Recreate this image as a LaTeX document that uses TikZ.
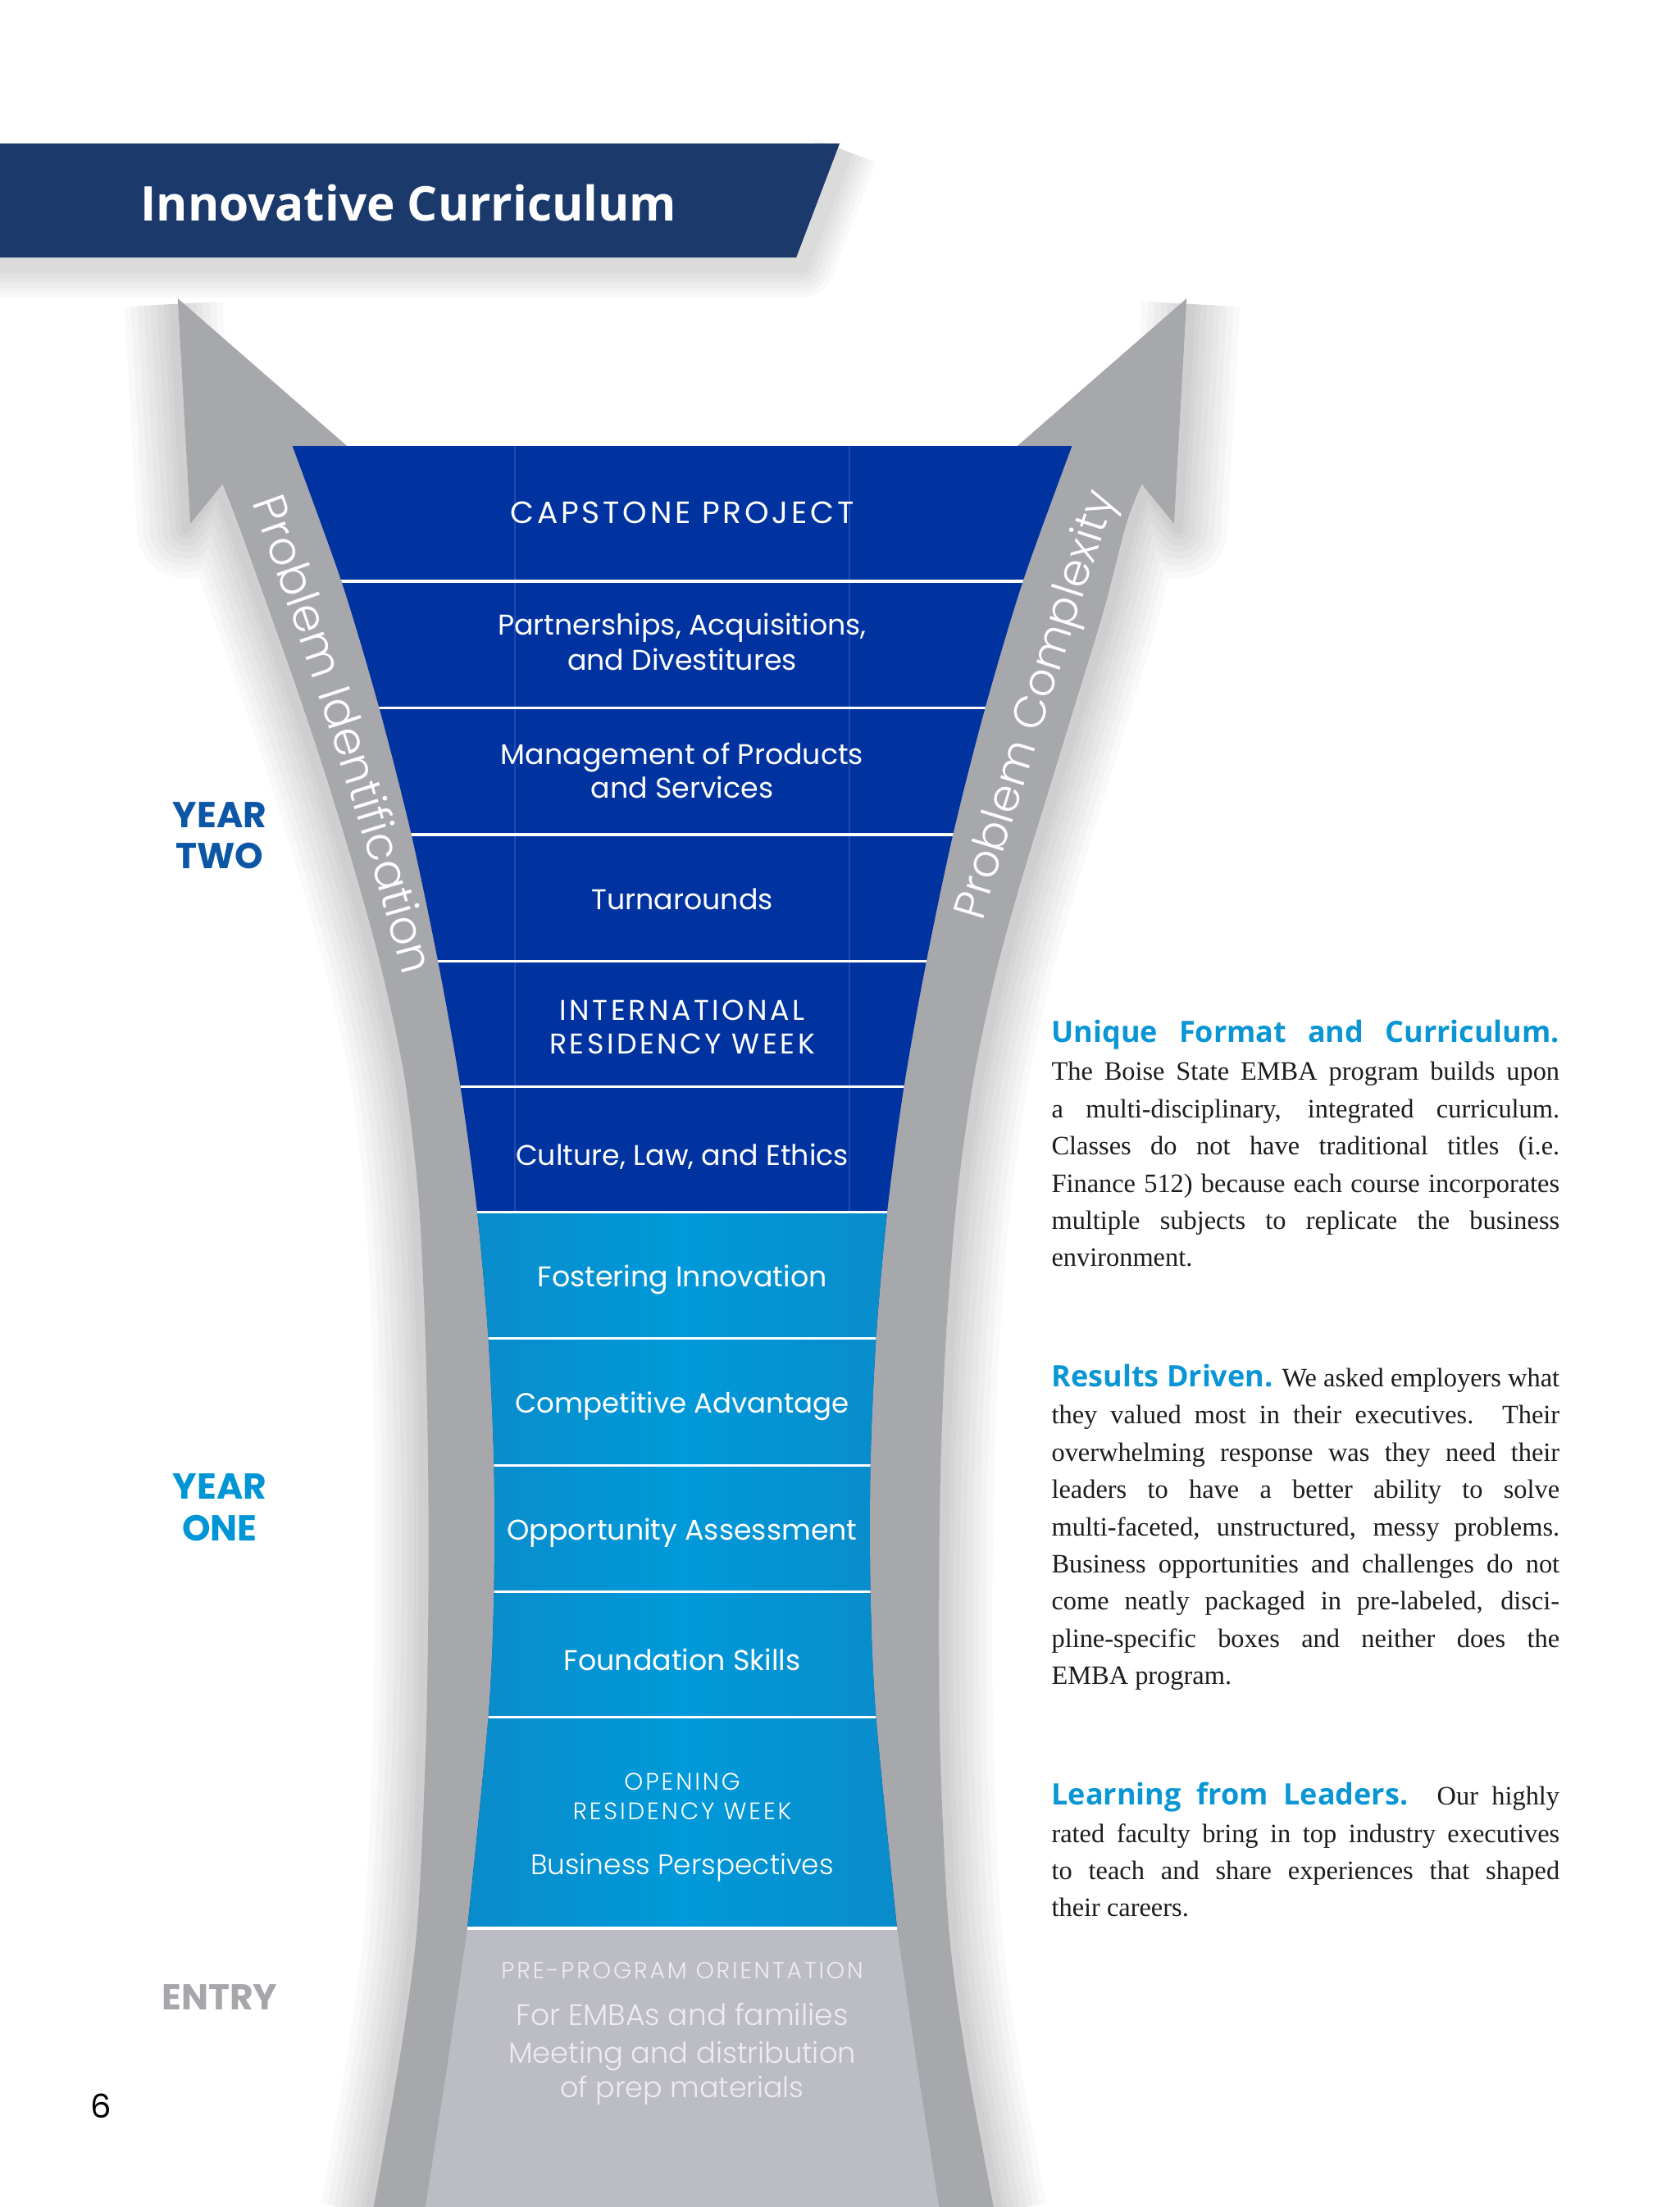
\documentclass[tikz,border=0pt]{standalone}
\usepackage{fontspec}
\usetikzlibrary{decorations.text}
\newfontfamily\labfont{Poppins}
\newfontfamily\labcaps{Poppins}[LetterSpace=10]
\IfFontExistsTF{Poppins Light}{%
  \newfontfamily\lightfont{Poppins Light}%
  \newfontfamily\lightcaps{Poppins Light}[LetterSpace=10]%
}{%
  \newfontfamily\lightfont{Poppins}%
  \newfontfamily\lightcaps{Poppins}[LetterSpace=10]%
}
\newfontfamily\headfont{Open Sans}
\newfontfamily\bodyfont{Liberation Serif}
\definecolor{navy}{HTML}{1B3A6B}
\definecolor{dblue}{HTML}{0033A0}
\definecolor{dbluelight}{HTML}{1F4BAE}
\definecolor{lblue}{HTML}{0099D9}
\definecolor{lblueedge}{HTML}{0A8BCA}
\definecolor{bandgray}{HTML}{A7A8AC}
\definecolor{entrygray}{HTML}{BCBDC4}
\definecolor{entrytext}{HTML}{EDEDF1}
\definecolor{yeartwo}{HTML}{0C56A6}
\definecolor{yearone}{HTML}{0096D6}
\definecolor{entrylab}{HTML}{A6A7AA}
\definecolor{headblue}{HTML}{0A96D4}
\definecolor{bodytext}{HTML}{1E1B1C}
\newlength\colw
\setlength\colw{154.9pt}
\newcommand\myhead[1]{{\headfont\bfseries\fontsize{9}{11}\selectfont\color{headblue}#1}}
\def\LeftArrowOutline{(127,212) -- (136,372) -- (159,344) -- plot[smooth] coordinates {(159,344) (170,372) (192,433) (214,495) (234,555) (253,617) (272,686) (289,765) (299,850) (304,950) (306,1050) (306,1150) (304,1250) (298,1370) (286,1460) (267,1568)}}
\def\LeftArrowShape{\LeftArrowOutline -- (430,1568) -- (420,900) -- (307,368) -- cycle}
\def\RightArrowOutline{(848,212) -- (839,372) -- (816,344) -- plot[smooth] coordinates {(816,344) (805,372) (789,433) (770,495) (750,560) (730,625) (712,690) (696,765) (684,850) (676,950) (672,1050) (671,1150) (672,1250) (678,1370) (690,1460) (710,1568)}}
\def\RightArrowShape{\RightArrowOutline -- (545,1568) -- (555,900) -- (668,368) -- cycle}
\def\PanelPath{plot[smooth] coordinates {(209,317) (244,413) (271,503) (294,593) (313,683) (329,772) (341,861) (349,951) (353,1041) (353,1131) (349,1220) (334,1370)} -- plot[smooth] coordinates {(641,1370) (626,1220) (622,1131) (622,1041) (626,951) (634,861) (646,772) (662,683) (681,593) (704,503) (731,413) (766,317)} -- cycle}
\def\EntryPath{plot[smooth] coordinates {(334,1370) (320,1465) (304,1568)} -- plot[smooth] coordinates {(671,1568) (655,1465) (641,1370)} -- cycle}
\begin{document}
\begin{tikzpicture}[x=0.426667pt,y=-0.4292pt,
  lab/.style={font=\labfont\fontsize{8.7}{10}\selectfont, text=white, inner sep=0pt, anchor=base},
  labcap/.style={lab, font=\labcaps\fontsize{8.7}{10}\selectfont},
  labsm/.style={lab, font=\lightcaps\fontsize{7.3}{9}\selectfont},
  entrylabel/.style={lab, text=entrytext, font=\lightfont\fontsize{8.7}{10}\selectfont},
  entrysm/.style={lab, text=entrytext, font=\lightcaps\fontsize{7.1}{9}\selectfont},
  yr/.style={font=\labfont\bfseries\fontsize{11}{13}\selectfont, inner sep=0pt, anchor=base},
  pnum/.style={font=\labfont\fontsize{10}{12}\selectfont, text=black, inner sep=0pt, anchor=base},
  body/.style={font=\bodyfont\fontsize{8.1}{9}\selectfont, text=bodytext, inner sep=0pt, anchor=base west},
  titlefont/.style={font=\headfont\bfseries\fontsize{14.6}{17}\selectfont, text=white, inner sep=0pt, anchor=base},
  sepline/.style={draw=white, line width=0.8pt},
  vline/.style={draw=dbluelight, line width=0.5pt},
  shadowline/.style={draw=black, line join=round},
]
\useasboundingbox (0,0) rectangle (1200,1568);
\fill[white] (0,0) rectangle (1200,1568);

% banner
\foreach \ww in {20,17,14,11,8,5} {
  \draw[shadowline, line width=\ww pt, opacity=0.025, shift={(4,5)}] (-30,183) -- (569,183) -- (600,102);
}
\fill[navy] (0,102) -- (600,102) -- (569,183) -- (0,183) -- cycle;
\node[titlefont] (title) at (292,157) {Innovative Curriculum};

% arrow shadows
\foreach \ww in {30,26,22,18,14,10,6,3} {
  \draw[shadowline, line width=\ww pt, opacity=0.022, shift={(-3,4)}] \LeftArrowOutline;
  \draw[shadowline, line width=\ww pt, opacity=0.022, shift={(3,4)}] \RightArrowOutline;
}
% arrows
\fill[bandgray] \LeftArrowShape;
\fill[bandgray] \RightArrowShape;

% funnel panel
\fill[dblue] \PanelPath;
\begin{scope}
  \clip \PanelPath;
  \shade[left color=lblueedge, right color=lblueedge, middle color=lblue] (330,861) rectangle (645,1372);
  \draw[vline] (368,317) -- (368,861);
  \draw[vline] (607,317) -- (607,861);
  \foreach \yy in {413,503,593,683,772,861,951,1041,1131,1220}
    \draw[sepline] (200,\yy) -- (780,\yy);
\end{scope}
\fill[entrygray] \EntryPath;
\draw[sepline] (334,1370) -- (641,1370);

% row labels
\node[labcap, font=\labcaps\fontsize{9.4}{11}\selectfont] (capstone) at (487.5,372) {CAPSTONE PROJECT};
\node[lab] (pa1) at (487.5,451) {Partnerships, Acquisitions,};
\node[lab] (pa2) at (487.5,476) {and Divestitures};
\node[lab] (mp1) at (487.5,543) {Management of Products};
\node[lab] (mp2) at (487.5,567) {and Services};
\node[lab] (turn) at (487.5,646) {Turnarounds};
\node[labcap] (irw1) at (487.5,725) {INTERNATIONAL};
\node[labcap] (irw2) at (487.5,749) {RESIDENCY WEEK};
\node[lab] (cle) at (487.5,828) {Culture, Law, and Ethics};
\node[lab] (fin) at (487.5,914) {Fostering Innovation};
\node[lab, font=\labfont\fontsize{8.5}{10}\selectfont] (cad) at (487.5,1004) {Competitive Advantage};
\node[lab] (oas) at (487.5,1094) {Opportunity Assessment};
\node[lab] (fsk) at (487.5,1187) {Foundation Skills};
\node[labsm] (op1) at (487.5,1272) {OPENING};
\node[labsm] (op2) at (487.5,1293) {RESIDENCY WEEK};
\node[lab, font=\lightfont\fontsize{8.6}{10}\selectfont] (bpe) at (487.5,1332) {Business Perspectives};
\node[entrysm] (ppo) at (487.5,1406) {PRE-PROGRAM ORIENTATION};
\node[entrylabel, font=\lightfont\fontsize{9}{10}\selectfont] (en1) at (487.5,1439) {For EMBAs and families};
\node[entrylabel, font=\lightfont\fontsize{8.8}{10}\selectfont] (en2) at (487.5,1466) {Meeting and distribution};
\node[entrylabel] (en3) at (487.5,1490) {of prep materials};

% text along arrows
\path[decorate, decoration={text along path, text={|\lightfont\fontsize{14}{16}\selectfont|Problem Identification}, text align={fit to path}, text color=white}]
  (180,357) .. controls (219.6,467) and (257.3,580) .. (287,690);
\path[decorate, decoration={text along path, text={|\lightfont\fontsize{13.6}{16}\selectfont|Problem Complexity}, text align={fit to path}, text color=white}]
  (702,655) .. controls (732,555) and (764,453) .. (797,353);

% side labels
\node[yr, text=yeartwo] (y2a) at (157,588) {YEAR};
\node[yr, text=yeartwo] (y2b) at (157,617) {TWO};
\node[yr, text=yearone] (y1a) at (157,1065) {YEAR};
\node[yr, text=yearone] (y1b) at (157,1095) {ONE};
\node[yr, text=entrylab] (ent) at (157,1428) {ENTRY};
\node[pnum] (pg) at (72,1505) {6};

% right column
\node[body] (a0) at (751,740.6) {\makebox[\colw][s]{\myhead{Unique Format and Curriculum.}}};
\node[body] (a1) at (751,767.5) {\makebox[\colw][s]{The Boise State EMBA program builds upon}};
\node[body] (a2) at (751,794.3) {\makebox[\colw][s]{a multi-disciplinary, integrated curriculum.}};
\node[body] (a3) at (751,820.6) {\makebox[\colw][s]{Classes do not have traditional titles (i.e.}};
\node[body] (a4) at (751,847.0) {\makebox[\colw][s]{Finance 512) because each course incorporates}};
\node[body] (a5) at (751,873.3) {\makebox[\colw][s]{multiple subjects to replicate the business}};
\node[body] (a6) at (751,899.7) {environment.};

\node[body] (b0) at (751,985.2) {\makebox[\colw][s]{\myhead{Results Driven.} We asked employers what}};
\node[body] (b1) at (751,1011.6) {\makebox[\colw][s]{they valued most in their executives. Their}};
\node[body] (b2) at (751,1038.0) {\makebox[\colw][s]{overwhelming response was they need their}};
\node[body] (b3) at (751,1064.5) {\makebox[\colw][s]{leaders to have a better ability to solve}};
\node[body] (b4) at (751,1091.0) {\makebox[\colw][s]{multi-faceted, unstructured, messy problems.}};
\node[body] (b5) at (751,1117.4) {\makebox[\colw][s]{Business opportunities and challenges do not}};
\node[body] (b6) at (751,1143.8) {\makebox[\colw][s]{come neatly packaged in pre-labeled, disci-}};
\node[body] (b7) at (751,1170.3) {\makebox[\colw][s]{pline-specific boxes and neither does the}};
\node[body] (b8) at (751,1196.7) {EMBA program.};

\node[body] (c0) at (751,1282.4) {\makebox[\colw][s]{\myhead{Learning from Leaders.} Our highly}};
\node[body] (c1) at (751,1308.9) {\makebox[\colw][s]{rated faculty bring in top industry executives}};
\node[body] (c2) at (751,1335.3) {\makebox[\colw][s]{to teach and share experiences that shaped}};
\node[body] (c3) at (751,1361.7) {their careers.};
\end{tikzpicture}
\end{document}
